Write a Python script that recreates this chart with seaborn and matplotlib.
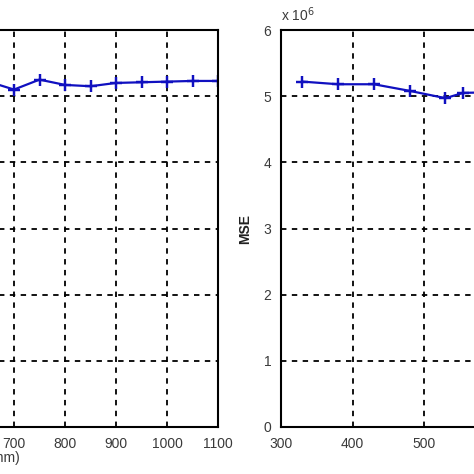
import numpy as np
import pandas as pd
import matplotlib
matplotlib.use("Agg")
import matplotlib.pyplot as plt
import seaborn as sns

# Left panel data (MSE in units of 1e6)
left_x = [650, 700, 750, 800, 850, 900, 950, 1000, 1050, 1100]
left_mse = [5.22, 5.10, 5.25, 5.17, 5.15, 5.20, 5.21, 5.22, 5.23, 5.23]

# Right panel data
right_x = [330, 380, 430, 480, 530, 555, 600]
right_mse = [5.22, 5.18, 5.18, 5.08, 4.97, 5.05, 5.06]

left_xticks = [400, 500, 600, 700, 800, 900, 1000, 1100]
left_xticklabels = ["", "", "", "700", "800", "900", "1000", "1100"]
right_xticks = [300, 400, 500, 600, 700, 800]
right_xticklabels = ["300", "400", "500", "", "", ""]
yticks = [0, 1, 2, 3, 4, 5, 6]
yticklabels = ["0", "1", "2", "3", "4", "5", "6"]

sns.set_style("white")
plt.rcParams["font.family"] = ["Liberation Sans", "DejaVu Sans"]

W = H = 474
fig = plt.figure(figsize=(4.74, 4.74), dpi=100)

def px_axes(x0, x1, y_top, y_bot):
    return fig.add_axes([x0 / W, 1 - y_bot / H, (x1 - x0) / W, (y_bot - y_top) / H])

ppu_l = (218 - 14) / 400.0
axL = px_axes(218 - 700 * ppu_l, 218, 30, 427)
ppu_r = (424 - 281) / 200.0
axR = px_axes(281, 281 + 500 * ppu_r, 30, 427)

dfL = pd.DataFrame({"x": left_x, "mse": left_mse})
dfR = pd.DataFrame({"x": right_x, "mse": right_mse})

line_kw = dict(color="#1010c0", linewidth=1.6, marker=(4, 2, 0), markersize=8,
               markeredgewidth=1.6, markeredgecolor="#1010c0")
sns.lineplot(data=dfL, x="x", y="mse", ax=axL, **line_kw)
sns.lineplot(data=dfR, x="x", y="mse", ax=axR, **line_kw)

txt_color = "#3a3a3a"
for ax, xt, xtl, xl in [(axL, left_xticks, left_xticklabels, (400, 1100)),
                        (axR, right_xticks, right_xticklabels, (300, 800))]:
    ax.set_xlim(*xl)
    ax.set_ylim(0, 6)
    ax.set_xticks(xt)
    ax.set_xticklabels(xtl)
    ax.set_yticks(yticks)
    ax.grid(True, color="black", linestyle=(0, (3, 3)), linewidth=1.3)
    for s in ax.spines.values():
        s.set_color("black")
        s.set_linewidth(1.5)
    ax.tick_params(direction="in", length=4, width=1, colors="black",
                   labelcolor=txt_color, labelsize=10, pad=7,
                   top=False, right=False)
    ax.set_xlabel("")
    ax.set_ylabel("")

axL.set_yticklabels([""] * len(yticks))
axR.set_yticklabels(yticklabels)

axL.set_xlabel("Wavelength (nm)", fontsize=10, color=txt_color, ha="right")
axL.xaxis.set_label_coords((20 - (218 - 700 * ppu_l)) / (700 * ppu_l), -0.06)

axR.set_ylabel("MSE", fontsize=10, color="#202020", fontweight="bold", labelpad=8)
axR.text(0.0, 1.015, r"x 10$^6$", transform=axR.transAxes, fontsize=10,
         color=txt_color, ha="left", va="bottom")

fig.savefig("out.png", dpi=100, facecolor="white")
